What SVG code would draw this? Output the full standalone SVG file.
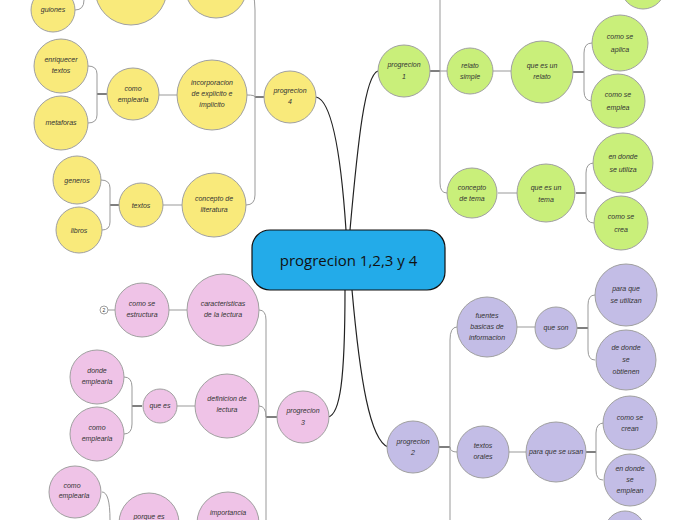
<svg xmlns="http://www.w3.org/2000/svg" width="697" height="520" viewBox="0 0 697 520">
<style>
circle{stroke:#a0a0a0;stroke-width:1}
.y{fill:#f9ea7b}.g{fill:#c9ef7a}.p{fill:#efc3e7}.v{fill:#c3bde6}
text{font-family:"Liberation Sans",Arial,sans-serif;font-style:italic;font-size:7px;fill:#333;text-anchor:middle}
.c path{fill:none;stroke:#999;stroke-width:1}
.c .m{stroke:#222;stroke-width:1.2}
.c .s{stroke:#555;stroke-width:1.5}
</style>
<g class="c">
<path class="m" d="M346,230 C340,140 330,100 316,97"/>
<path class="m" d="M350,230 C358,140 365,75 378,71"/>
<path class="m" d="M345,290 C345,380 340,415 328,417"/>
<path class="m" d="M352,290 C360,380 370,440 388,447"/>
<path class="s" d="M264,97 H255"/>
<path d="M255,97 V10 Q255,-10 247,-13"/>
<path d="M255,97 Q255,95 247,95"/>
<path d="M255,97 V195 Q255,205 246,205"/>
<path d="M177,95 H159"/><path d="M182,205 H163"/><path d="M167,-5 H185"/>
<path class="s" d="M107,94 H97"/>
<path d="M97,94 V74 Q97,66 88,66 M97,94 V115 Q97,123 88,123"/>
<path class="s" d="M120,205 H110"/>
<path d="M110,205 V188 Q110,180 101,180 M110,205 V222 Q110,230 102,230"/>
<path d="M75,10 Q84,10 84,0"/>
<path class="s" d="M429,71 H440"/>
<path d="M440,71 V0 M440,71 H447 M440,71 V183 Q440,193 447,193"/>
<path d="M493,71 H511 M498,193 H517"/>
<path class="s" d="M573,72 H584"/><path d="M584,72 V53 Q584,43 592,43 M584,72 V91 Q584,101 592,101"/>
<path class="s" d="M576,193 H586"/><path d="M586,193 V173 Q586,163 594,163 M586,193 V213 Q586,223 594,223"/>
<path class="s" d="M277,417 H266"/>
<path d="M266,417 V320 Q266,310 259,310 M266,417 Q266,406 259,406 M266,417 V520"/>
<path d="M187,310 H169 M115,310 H108 M195,406 H177"/>
<path class="s" d="M142,406 H132"/><path d="M132,406 V387 Q132,377 124,377 M132,406 V424 Q132,434 124,434"/>
<path d="M102,492 Q110,492 110,520"/>
<path class="s" d="M439,447 H450"/>
<path d="M450,447 V340 Q450,327 457,327 M450,447 Q450,452 457,452 M450,447 V520"/>
<path d="M517,327 H536 M508,452 H527"/>
<path class="s" d="M577,328 H588"/><path d="M588,328 V305 Q588,295 595,295 M588,328 V350 Q588,360 595,360"/>
<path class="s" d="M586,452 H596"/><path d="M596,452 V433 Q596,423 604,423 M596,452 V470 Q596,480 603,480"/>
</g>
<g id="center"><rect x="252" y="230" width="193" height="60" rx="18" fill="#23abe9" stroke="#111" stroke-width="1.2"/><text x="348.5" y="266" style="font-style:normal;font-size:15px;fill:#111;font-family:'Open Sans','Liberation Sans',sans-serif">progrecion 1,2,3 y 4</text></g>
<g id="y1"><circle class="y" cx="53" cy="10" r="22"/><text x="53" y="12">guiones</text></g>
<g id="y2"><circle class="y" cx="131" cy="-11" r="36"/></g>
<g id="y3"><circle class="y" cx="216" cy="-13" r="31"/></g>
<g id="y4"><circle class="y" cx="61" cy="66" r="27"/><text x="61" y="62">enriquecer</text><text x="61" y="73">textos</text></g>
<g id="y5"><circle class="y" cx="61" cy="123" r="27"/><text x="61" y="125">metaforas</text></g>
<g id="y6"><circle class="y" cx="133" cy="94" r="26"/><text x="133" y="91">como</text><text x="133" y="102">emplearla</text></g>
<g id="y7"><circle class="y" cx="212" cy="95" r="35"/><text x="212" y="85">incorporacion</text><text x="212" y="96">de explicito e</text><text x="212" y="107">implicito</text></g>
<g id="p4"><circle class="y" cx="290" cy="97" r="26"/><text x="290" y="93">progrecion</text><text x="290" y="104">4</text></g>
<g id="y8"><circle class="y" cx="77" cy="180" r="24"/><text x="77" y="183">generos</text></g>
<g id="y9"><circle class="y" cx="79" cy="230" r="23"/><text x="79" y="233">libros</text></g>
<g id="y10"><circle class="y" cx="141" cy="205" r="22"/><text x="141" y="208">textos</text></g>
<g id="y11"><circle class="y" cx="214" cy="205" r="32"/><text x="214" y="201">concepto de</text><text x="214" y="212">literatura</text></g>
<g id="p1"><circle class="g" cx="404" cy="71" r="26"/><text x="404" y="67">progrecion</text><text x="404" y="79">1</text></g>
<g id="g1"><circle class="g" cx="470" cy="71" r="23"/><text x="470" y="68">relato</text><text x="470" y="79">simple</text></g>
<g id="g2"><circle class="g" cx="542" cy="72" r="31"/><text x="542" y="68">que es un</text><text x="542" y="79">relato</text></g>
<g id="g3"><circle class="g" cx="620" cy="43" r="28"/><text x="620" y="39">como se</text><text x="620" y="52">aplica</text></g>
<g id="g4"><circle class="g" cx="618" cy="101" r="27"/><text x="618" y="97">como se</text><text x="618" y="110">emplea</text></g>
<g id="g5"><circle class="g" cx="472" cy="193" r="25"/><text x="472" y="190">concepto</text><text x="472" y="201">de tema</text></g>
<g id="g6"><circle class="g" cx="546" cy="193" r="29"/><text x="546" y="190">que es un</text><text x="546" y="202">tema</text></g>
<g id="g7"><circle class="g" cx="623" cy="163" r="30"/><text x="623" y="159">en donde</text><text x="623" y="172">se utiliza</text></g>
<g id="g8"><circle class="g" cx="621" cy="223" r="27"/><text x="621" y="219">como se</text><text x="621" y="232">crea</text></g>
<g id="g9"><circle class="g" cx="643" cy="-13" r="22"/></g>
<g id="k1"><circle class="p" cx="142" cy="310" r="27"/><text x="142" y="306">como se</text><text x="142" y="317">estructura</text></g>
<g id="k0"><circle cx="104" cy="310" r="4" fill="#fff" stroke="#888"/><text x="104" y="312" style="font-size:5px;font-style:normal">2</text></g>
<g id="k2"><circle class="p" cx="223" cy="310" r="36"/><text x="223" y="306">caracteristicas</text><text x="223" y="317">de la lectura</text></g>
<g id="k3"><circle class="p" cx="97" cy="377" r="27"/><text x="97" y="373">donde</text><text x="97" y="384">emplearla</text></g>
<g id="k4"><circle class="p" cx="97" cy="434" r="27"/><text x="97" y="430">como</text><text x="97" y="441">emplearla</text></g>
<g id="k5"><circle class="p" cx="160" cy="406" r="17"/><text x="160" y="408">que es</text></g>
<g id="k6"><circle class="p" cx="227" cy="406" r="32"/><text x="227" y="401">definicion de</text><text x="227" y="412">lectura</text></g>
<g id="p3"><circle class="p" cx="303" cy="417" r="26"/><text x="303" y="413">progrecion</text><text x="303" y="425">3</text></g>
<g id="k7"><circle class="p" cx="75" cy="492" r="26"/><text x="72" y="488">como</text><text x="74" y="498">emplearla</text></g>
<g id="k8"><circle class="p" cx="149" cy="523" r="30"/><text x="149" y="519">porque es</text></g>
<g id="k9"><circle class="p" cx="228" cy="523" r="31"/><text x="228" y="515">importancia</text></g>
<g id="v1"><circle class="v" cx="487" cy="327" r="30"/><text x="487" y="318">fuentes</text><text x="487" y="329">basicas de</text><text x="487" y="340">informacion</text></g>
<g id="v2"><circle class="v" cx="556" cy="328" r="21"/><text x="556" y="330">que son</text></g>
<g id="v3"><circle class="v" cx="626" cy="295" r="31"/><text x="626" y="291">para que</text><text x="626" y="303">se utilizan</text></g>
<g id="v4"><circle class="v" cx="626" cy="360" r="30"/><text x="626" y="350">de donde</text><text x="626" y="362">se</text><text x="626" y="374">obtienen</text></g>
<g id="p2"><circle class="v" cx="413" cy="447" r="26"/><text x="413" y="444">progrecion</text><text x="413" y="455">2</text></g>
<g id="v5"><circle class="v" cx="483" cy="452" r="26"/><text x="483" y="448">textos</text><text x="483" y="459">orales</text></g>
<g id="v6"><circle class="v" cx="556" cy="452" r="30"/><text x="556" y="454">para que se usan</text></g>
<g id="v7"><circle class="v" cx="630" cy="423" r="27"/><text x="630" y="420">como se</text><text x="630" y="431">crean</text></g>
<g id="v8"><circle class="v" cx="630" cy="480" r="26"/><text x="630" y="471">en donde</text><text x="630" y="482">se</text><text x="630" y="493">emplean</text></g>
<g id="v9"><circle class="v" cx="625" cy="531" r="20"/></g>
</svg>
